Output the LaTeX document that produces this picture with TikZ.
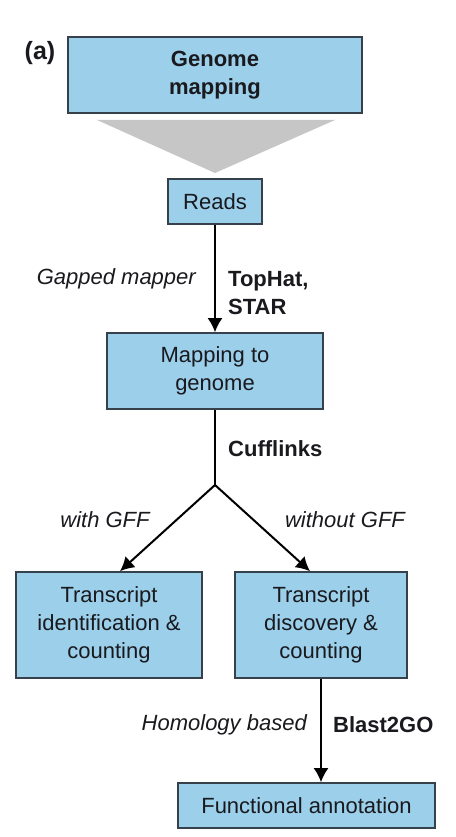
\documentclass[tikz,border=0pt]{standalone}
\usepackage{fontspec}
\setmainfont{Liberation Sans}
\usetikzlibrary{arrows.meta}

\definecolor{boxfill}{RGB}{155,207,234}
\definecolor{boxline}{RGB}{55,65,75}
\definecolor{txt}{RGB}{25,25,30}

\tikzset{
  stage/.style={draw=boxline, line width=1.6pt, fill=boxfill, text=txt, align=center,
    inner sep=0pt, font=\fontsize{22}{28}\selectfont},
  tool/.style={text=txt, align=left, inner sep=0pt, font=\fontsize{22}{28}\selectfont\bfseries},
  how/.style={text=txt, inner sep=0pt, font=\fontsize{22}{28}\selectfont\itshape},
  flow/.style={line width=2pt, -{Latex[length=14pt,width=15pt]}}
}

\begin{document}
\begin{tikzpicture}[x=1pt, y=-1pt]
        \useasboundingbox (0,0) rectangle (455,837);
        % ==== TOP ====
        \node[tool, font=\fontsize{25}{30}\selectfont\bfseries] (tag) at (40,53) {(a)};
        \node[stage, minimum width=294pt, minimum height=76pt, font=\fontsize{22}{28}\selectfont\bfseries]
            (genome) at (215,75) {Genome\\mapping};
        \fill[gray!45] (97,120) -- (335,120) -- (215,173) -- cycle;
        \node[stage, minimum width=94pt, minimum height=45pt] (reads) at (215,201.5) {Reads};

        % ==== MAPPING ====
        \node[stage, minimum width=216pt, minimum height=76pt] (mapping) at (215,371) {Mapping to\\genome};
        \draw[flow] (reads) -- (mapping);
        \node[how, anchor=east] (gapped) at (196,279) {Gapped mapper};
        \node[tool, anchor=west] (tophat) at (228,293) {TopHat,\\STAR};

        % ==== SPLIT ====
        \coordinate (split) at (215,485);
        \node[tool, anchor=west] (cuff) at (228,449) {Cufflinks};
        \draw[line width=2pt] (mapping) -- (split);
        \node[stage, minimum width=186pt, minimum height=106pt] (ident) at (109,625)
            {Transcript\\identification \&\\counting};
        \node[stage, minimum width=172pt, minimum height=106pt] (discov) at (321,625)
            {Transcript\\discovery \&\\counting};
        \draw[flow] (split) -- ([xshift=11pt]ident.north);
        \draw[flow] (split) -- ([xshift=-11pt]discov.north);
        \node[how] (withgff) at (105,520) {with GFF};
        \node[how] (withoutgff) at (345,520) {without GFF};

        % ==== ANNOTATION ====
        \node[stage, minimum width=257pt, minimum height=45pt] (func) at (306.5,805.5) {Functional annotation};
        \draw[flow] (discov.south) -- (discov.south |- func.north);
        \node[how, anchor=east] (homology) at (307,725) {Homology based};
        \node[tool, anchor=west] (blast) at (333,725) {Blast2GO};
\end{tikzpicture}
\end{document}
